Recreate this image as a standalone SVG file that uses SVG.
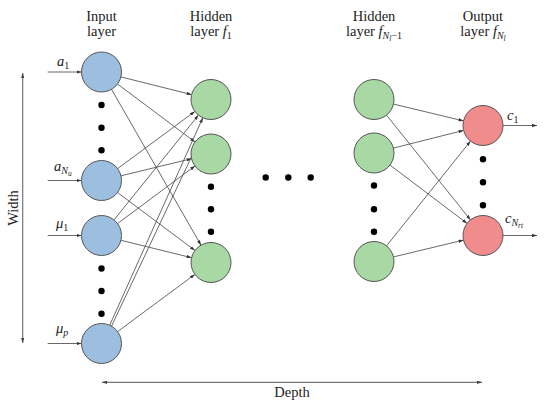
<svg xmlns="http://www.w3.org/2000/svg" width="550" height="406" viewBox="0 0 550 406">
<style>
  text { font-family: "Liberation Serif", "DejaVu Serif", serif; fill: #222; }
  .title { font-size: 14.5px; text-anchor: middle; }
  .lab { font-size: 14.5px; font-style: italic; }
  .sub { font-size: 10px; }
  .ssub { font-size: 7.5px; }
  .in { fill: #9dbfdf; stroke: #555; stroke-width: 1; }
  .hid { fill: #a8d8a4; stroke: #555; stroke-width: 1; }
  .out { fill: #f08c8c; stroke: #555; stroke-width: 1; }
  .dot { fill: #000; }
  .c { stroke: #444; stroke-width: 0.8; fill: none; marker-end: url(#ah); }
  .axis { stroke: #777; stroke-width: 1.2; fill: none; marker-start: url(#ahs); marker-end: url(#ah2); }
</style>
<defs>
  <marker id="ah" viewBox="0 0 6 4" refX="6" refY="2" markerWidth="5" markerHeight="3.4" markerUnits="userSpaceOnUse" orient="auto">
    <path d="M0,0 L6,2 L0,4 Z" fill="#333"/>
  </marker>
  <marker id="ah2" viewBox="0 0 6 4" refX="6" refY="2" markerWidth="5" markerHeight="3.4" markerUnits="userSpaceOnUse" orient="auto">
    <path d="M0,0 L6,2 L0,4 Z" fill="#444"/>
  </marker>
  <marker id="ahs" viewBox="0 0 6 4" refX="0" refY="2" markerWidth="5" markerHeight="3.4" markerUnits="userSpaceOnUse" orient="auto">
    <path d="M6,0 L0,2 L6,4 Z" fill="#444"/>
  </marker>
</defs>

<!-- titles -->
<g id="titles">
  <text class="title" x="101.5" y="21">Input</text>
  <text class="title" x="101.5" y="36">layer</text>
  <text class="title" x="211" y="21">Hidden</text>
  <text class="title" x="211" y="36">layer <tspan font-style="italic">f</tspan><tspan class="sub" dy="3">1</tspan></text>
  <text class="title" x="374" y="21">Hidden</text>
  <text class="title" x="374" y="36">layer <tspan font-style="italic">f</tspan><tspan class="sub" font-style="italic" dy="3">N</tspan><tspan class="ssub" font-style="italic" dy="2">l</tspan><tspan class="sub" dy="-2">−1</tspan></text>
  <text class="title" x="483" y="21">Output</text>
  <text class="title" x="483" y="36">layer <tspan font-style="italic">f</tspan><tspan class="sub" font-style="italic" dy="3">N</tspan><tspan class="ssub" font-style="italic" dy="2">l</tspan></text>
</g>

<!-- axes -->
<g id="axes">
  <line class="axis" x1="22.7" y1="343" x2="22.7" y2="73"/>
  <text x="17.5" y="208" font-size="14.5" text-anchor="middle" transform="rotate(-90 17.5 208)">Width</text>
  <line class="axis" x1="102" y1="382.3" x2="482" y2="382.3"/>
  <text x="292" y="397" font-size="14.5" text-anchor="middle">Depth</text>
</g>

<!-- connectors -->
<g id="connectors">
  <line class="c" x1="47.7" y1="72" x2="81.5" y2="72"/>
  <line class="c" x1="47.7" y1="180.5" x2="81.5" y2="180.5"/>
  <line class="c" x1="47.7" y1="235.5" x2="81.5" y2="235.5"/>
  <line class="c" x1="47.7" y1="343.5" x2="81.5" y2="343.5"/>

  <line class="c" x1="120.9" y1="76.9" x2="191.6" y2="94.6"/>
  <line class="c" x1="117.5" y1="84.0" x2="195.0" y2="142.0"/>
  <line class="c" x1="111.5" y1="89.3" x2="201.0" y2="245.2"/>

  <line class="c" x1="117.6" y1="168.6" x2="194.9" y2="111.4"/>
  <line class="c" x1="120.9" y1="175.8" x2="191.6" y2="158.7"/>
  <line class="c" x1="117.5" y1="192.5" x2="195.0" y2="250.5"/>

  <line class="c" x1="114.0" y1="219.9" x2="198.5" y2="115.1"/>
  <line class="c" x1="117.5" y1="223.6" x2="195.0" y2="165.9"/>
  <line class="c" x1="120.9" y1="240.3" x2="191.6" y2="257.7"/>

  <line class="c" x1="109.7" y1="325.3" x2="202.8" y2="117.8"/>
  <line class="c" x1="111.5" y1="326.2" x2="201.0" y2="136.7"/>
  <line class="c" x1="117.6" y1="331.6" x2="194.9" y2="274.4"/>

  <line class="c" x1="393.5" y1="104.1" x2="463.5" y2="120.9"/>
  <line class="c" x1="386.5" y1="115.1" x2="470.5" y2="219.9"/>
  <line class="c" x1="393.4" y1="148.1" x2="463.6" y2="130.4"/>
  <line class="c" x1="390.0" y1="165.1" x2="467.1" y2="223.4"/>
  <line class="c" x1="386.5" y1="245.9" x2="470.5" y2="141.1"/>
  <line class="c" x1="393.5" y1="256.9" x2="463.5" y2="240.1"/>

  <line class="c" x1="503" y1="125.5" x2="537" y2="125.5"/>
  <line class="c" x1="503" y1="235.5" x2="537" y2="235.5"/>
</g>

<!-- input labels -->
<g id="labels">
  <text class="lab" x="57" y="66">a<tspan class="sub" font-style="normal" dy="3">1</tspan></text>
  <text class="lab" x="54" y="171">a<tspan class="sub" dy="3">N</tspan><tspan class="ssub" dy="2">u</tspan></text>
  <text class="lab" x="56" y="228">μ<tspan class="sub" font-style="normal" dy="3">1</tspan></text>
  <text class="lab" x="56" y="333">μ<tspan class="sub" dy="3">p</tspan></text>
  <text class="lab" x="507" y="120">c<tspan class="sub" font-style="normal" dy="3">1</tspan></text>
  <text class="lab" x="505" y="223">c<tspan class="sub" dy="3">N</tspan><tspan class="ssub" dy="2">rt</tspan></text>
</g>

<!-- nodes -->
<g id="input1"><circle class="in" cx="101.5" cy="72" r="20"/></g>
<g id="input2"><circle class="in" cx="101.5" cy="180.5" r="20"/></g>
<g id="input3"><circle class="in" cx="101.5" cy="235.5" r="20"/></g>
<g id="input4"><circle class="in" cx="101.5" cy="343.5" r="20"/></g>

<g id="hidden1a"><circle class="hid" cx="211" cy="99.5" r="20"/></g>
<g id="hidden1b"><circle class="hid" cx="211" cy="154" r="20"/></g>
<g id="hidden1c"><circle class="hid" cx="211" cy="262.5" r="20"/></g>

<g id="hiddenLa"><circle class="hid" cx="374" cy="99.5" r="20"/></g>
<g id="hiddenLb"><circle class="hid" cx="374" cy="153" r="20"/></g>
<g id="hiddenLc"><circle class="hid" cx="374" cy="261.5" r="20"/></g>

<g id="output1"><circle class="out" cx="483" cy="125.5" r="20"/></g>
<g id="output2"><circle class="out" cx="483" cy="235.5" r="20"/></g>

<!-- ellipsis dots -->
<g id="dots">
  <circle class="dot" cx="101.5" cy="105" r="3.2"/>
  <circle class="dot" cx="101.5" cy="127.7" r="3.2"/>
  <circle class="dot" cx="101.5" cy="150.3" r="3.2"/>
  <circle class="dot" cx="101.5" cy="268.5" r="3.2"/>
  <circle class="dot" cx="101.5" cy="291" r="3.2"/>
  <circle class="dot" cx="101.5" cy="313.7" r="3.2"/>

  <circle class="dot" cx="211" cy="186.7" r="3.2"/>
  <circle class="dot" cx="211" cy="209.3" r="3.2"/>
  <circle class="dot" cx="211" cy="231.7" r="3.2"/>

  <circle class="dot" cx="374" cy="185.5" r="3.2"/>
  <circle class="dot" cx="374" cy="209.3" r="3.2"/>
  <circle class="dot" cx="374" cy="231.7" r="3.2"/>

  <circle class="dot" cx="483" cy="159.3" r="3.2"/>
  <circle class="dot" cx="483" cy="182.3" r="3.2"/>
  <circle class="dot" cx="483" cy="205.3" r="3.2"/>

  <circle class="dot" cx="265.7" cy="177.5" r="3.2"/>
  <circle class="dot" cx="288.3" cy="177.5" r="3.2"/>
  <circle class="dot" cx="310.7" cy="177.5" r="3.2"/>
</g>
</svg>
